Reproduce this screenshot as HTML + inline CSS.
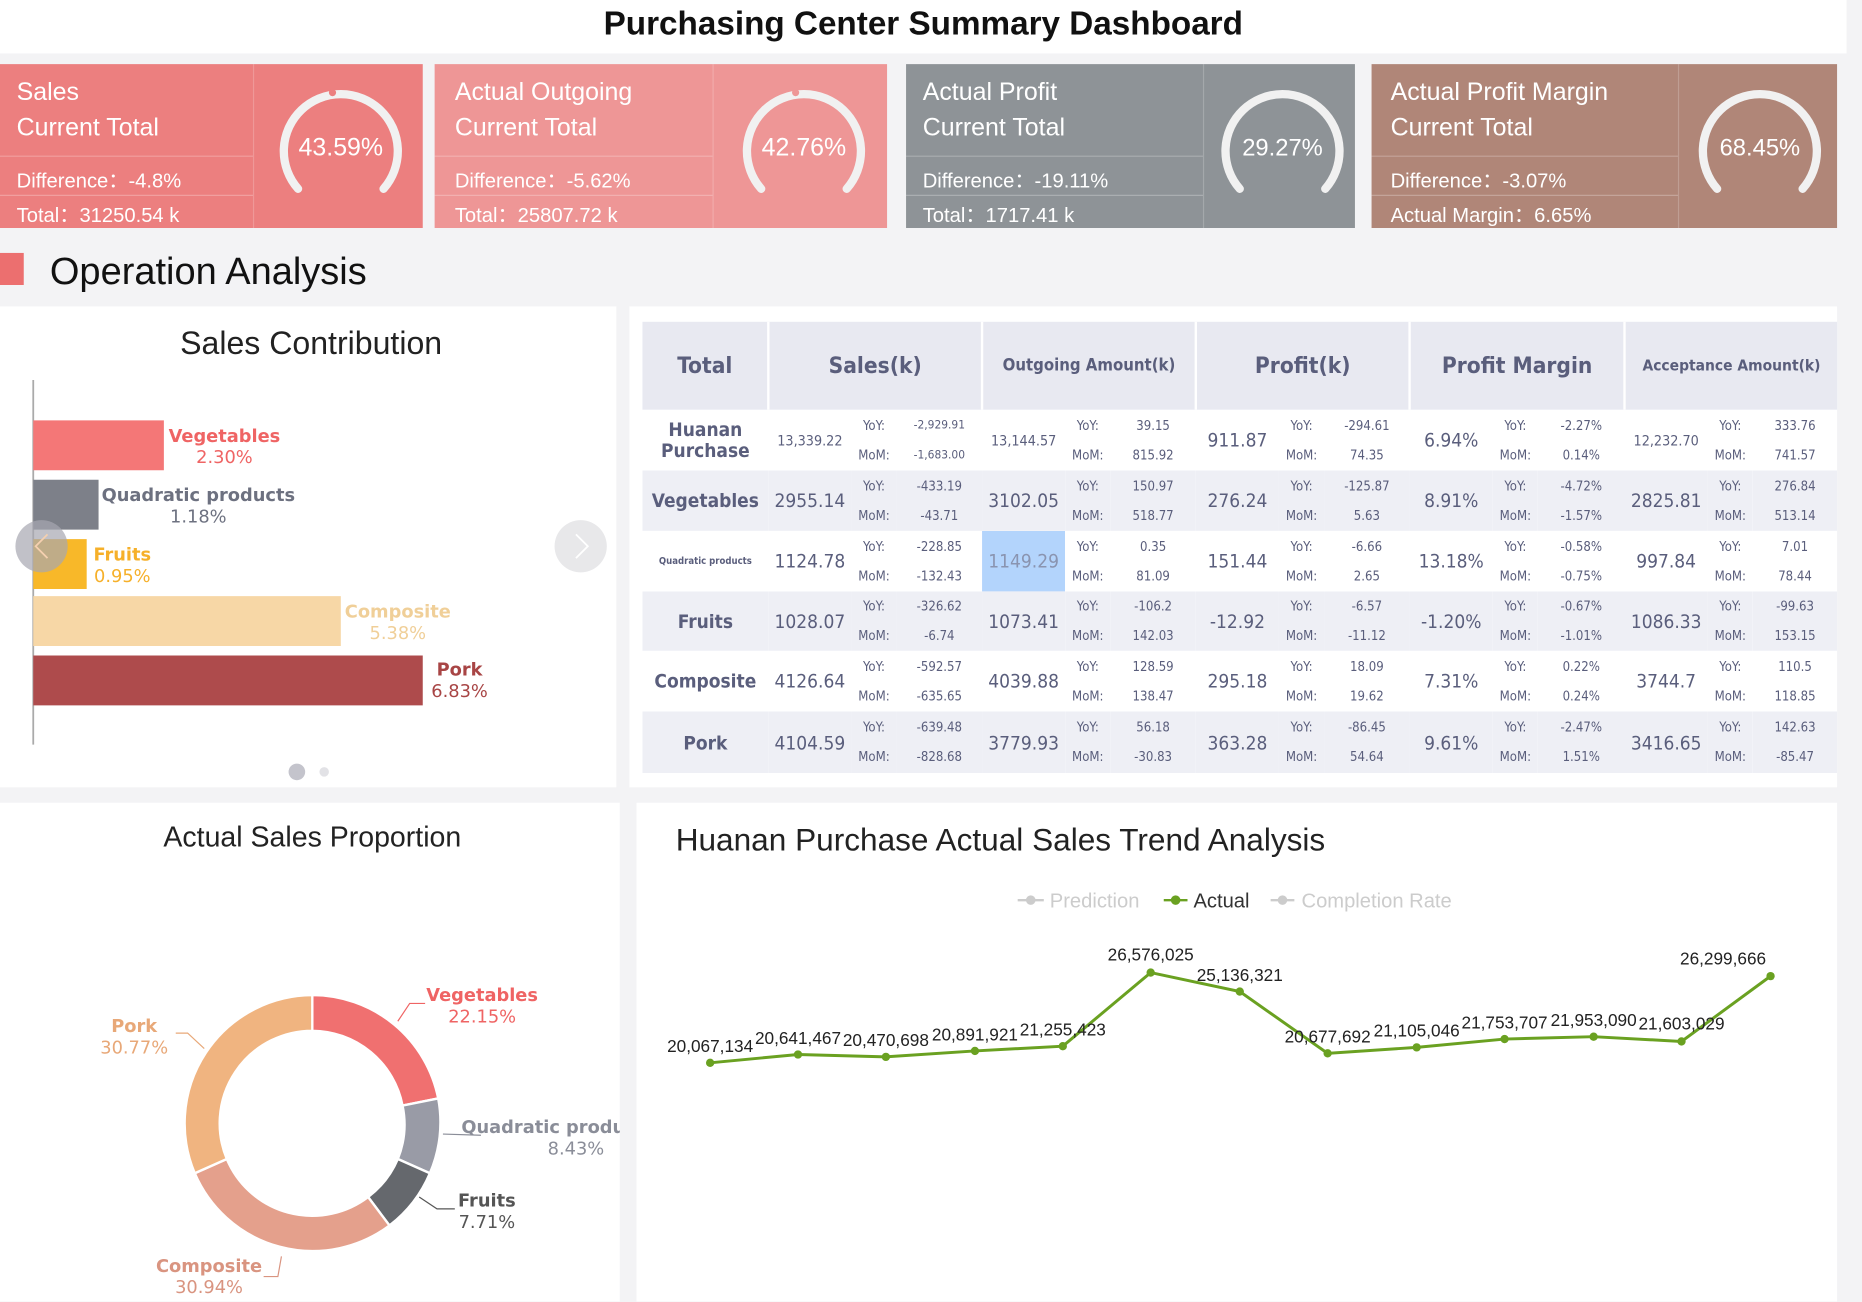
<!DOCTYPE html>
<html><head><meta charset="utf-8"><style>
html,body{margin:0;padding:0;width:1862px;height:1302px;overflow:hidden;background:#f3f3f5;font-family:"Liberation Sans","DejaVu Sans",sans-serif}
#w{position:absolute;left:0;top:0;width:1568px;height:1096px;transform:scale(1.1875);transform-origin:0 0;background:#f3f3f5}
.a{position:absolute}
.card{position:absolute;top:54px;height:138px;color:#fff}
.card .t{position:absolute;left:14px;font-size:21px;line-height:30px;top:9px}
.card .l1{position:absolute;left:0;width:213px;top:77px;border-top:1px solid rgba(255,255,255,.25)}
.card .l2{position:absolute;left:0;width:213px;top:110px;border-top:1px solid rgba(255,255,255,.25)}
.card .vd{position:absolute;left:213px;top:0;height:138px;border-left:1px solid rgba(255,255,255,.2)}
.card .d{position:absolute;left:14px;top:84px;font-size:17px}
.card .s{position:absolute;left:14px;top:113px;font-size:17px}
.card svg{position:absolute;top:14px}
table{border-collapse:collapse;table-layout:fixed;font-family:"DejaVu Sans Condensed","DejaVu Sans",sans-serif;color:#5a5e7c}
td{padding:0;text-align:center;vertical-align:middle;overflow:hidden;white-space:nowrap}
th{font-weight:bold;color:#5a5e7c;font-size:19px;border-left:2px solid #fff}
tr.h{height:74px;background:#e8e9f1}
tr.r{height:51px}
tr.alt{background:#eeeff5}
td.v{font-size:16px}
td.n{font-size:11px;line-height:25px}
td.lb{font-size:11px;line-height:25px}
td.c0{font-weight:bold;font-size:16px}
</style></head><body><div id="w">
<div class="a" style="left:0;top:0;width:1555px;height:45px;background:#fff"></div>
<div class="a" style="left:0;top:2px;width:1555px;text-align:center;font-size:28px;font-weight:bold;color:#111;line-height:36px">Purchasing Center Summary Dashboard</div>

<div class="card" style="left:0;width:356px;background:#ec7f7f"><div class="vd"></div><div class="l1"></div><div class="l2"></div>
<div class="t">Sales<br>Current Total</div><div class="d">Difference：-4.8%</div><div class="s">Total：31250.54 k</div>
<svg style="left:230px" width="114" height="114" viewBox="0 0 114 114"><path d="M21 91 A48 48 0 1 1 93 91" fill="none" stroke="#f1f1f1" stroke-width="7" stroke-linecap="round"/><circle cx="50" cy="10" r="3" fill="#ec7f7f"/><text x="57" y="63" text-anchor="middle" fill="#fff" font-size="21">43.59%</text></svg></div>

<div class="card" style="left:366px;width:381px;background:#ee9696"><div class="vd" style="left:234px"></div><div class="l1" style="width:234px"></div><div class="l2" style="width:234px"></div>
<div class="t" style="left:17px">Actual Outgoing<br>Current Total</div><div class="d" style="left:17px">Difference：-5.62%</div><div class="s" style="left:17px">Total：25807.72 k</div>
<svg style="left:254px" width="114" height="114" viewBox="0 0 114 114"><path d="M21 91 A48 48 0 1 1 93 91" fill="none" stroke="#f1f1f1" stroke-width="7" stroke-linecap="round"/><circle cx="50" cy="10" r="3" fill="#ee9696"/><text x="57" y="63" text-anchor="middle" fill="#fff" font-size="21">42.76%</text></svg></div>

<div class="card" style="left:763px;width:378px;background:#8e9397"><div class="vd" style="left:250px"></div><div class="l1" style="width:250px"></div><div class="l2" style="width:250px"></div>
<div class="t">Actual Profit<br>Current Total</div><div class="d">Difference：-19.11%</div><div class="s">Total：1717.41 k</div>
<svg style="left:260px" width="114" height="114" viewBox="0 0 114 114"><path d="M21 91 A48 48 0 1 1 93 91" fill="none" stroke="#f1f1f1" stroke-width="7" stroke-linecap="round"/><text x="57" y="63" text-anchor="middle" fill="#fff" font-size="20">29.27%</text></svg></div>

<div class="card" style="left:1155px;width:392px;background:#b08678"><div class="vd" style="left:258px"></div><div class="l1" style="width:258px"></div><div class="l2" style="width:258px"></div>
<div class="t" style="left:16px">Actual Profit Margin<br>Current Total</div><div class="d" style="left:16px">Difference：-3.07%</div><div class="s" style="left:16px">Actual Margin：6.65%</div>
<svg style="left:270px" width="114" height="114" viewBox="0 0 114 114"><path d="M21 91 A48 48 0 1 1 93 91" fill="none" stroke="#f1f1f1" stroke-width="7" stroke-linecap="round"/><text x="57" y="63" text-anchor="middle" fill="#fff" font-size="20">68.45%</text></svg></div>

<div class="a" style="left:0;top:213px;width:20px;height:27px;background:#ec6f6f"></div>
<div class="a" style="left:42px;top:209px;font-size:32px;color:#111;line-height:38px">Operation Analysis</div>

<!-- Sales contribution -->
<div class="a" style="left:0;top:258px;width:519px;height:405px;background:#fff"></div>
<div class="a" style="left:0;top:274px;width:524px;text-align:center;font-size:27px;color:#222">Sales Contribution</div>
<svg class="a" style="left:0;top:258px" width="519" height="405" viewBox="0 258 519 405" font-family="DejaVu Sans, sans-serif">
<line x1="28" y1="320" x2="28" y2="627" stroke="#aaa" stroke-width="1.5"/>
<rect x="28" y="354" width="110" height="42" fill="#f47777"/>
<rect x="28" y="404" width="55" height="42" fill="#7d8089"/>
<rect x="28" y="454" width="45" height="42" fill="#f8b829"/>
<rect x="28" y="502" width="259" height="42" fill="#f7d7a6"/>
<rect x="28" y="552" width="328" height="42" fill="#ae4b4c"/>
<g font-size="15" text-anchor="middle">
<text x="189" y="372" fill="#ef6464" font-weight="bold">Vegetables</text><text x="189" y="390" fill="#ef6464">2.30%</text>
<text x="167" y="422" fill="#6d7180" font-weight="bold">Quadratic products</text><text x="167" y="440" fill="#6d7180">1.18%</text>
<text x="103" y="472" fill="#f6b02a" font-weight="bold">Fruits</text><text x="103" y="490" fill="#f6b02a">0.95%</text>
<text x="335" y="520" fill="#f0cf98" font-weight="bold">Composite</text><text x="335" y="538" fill="#f0cf98">5.38%</text>
<text x="387" y="569" fill="#a84545" font-weight="bold">Pork</text><text x="387" y="587" fill="#a84545">6.83%</text>
</g>
<circle cx="35" cy="460" r="22" fill="#a6a6b0" opacity=".7"/><path d="M40 450 L30 460 L40 470" stroke="#f5d0b0" stroke-width="1.5" fill="none"/>
<circle cx="489" cy="460" r="22" fill="#e8e8ea"/><path d="M485 450 L495 460 L485 470" stroke="#fff" stroke-width="1.5" fill="none"/>
<circle cx="250" cy="650" r="7" fill="#c4c4cc"/><circle cx="273" cy="650" r="4" fill="#e2e2e6"/>
</svg>

<!-- table panel -->
<div class="a" style="left:530px;top:258px;width:1017px;height:405px;background:#fff"></div>
<table class="a" style="left:541px;top:271px;width:1006px">
<colgroup><col style="width:106px">
<col style="width:70px"><col style="width:38px"><col style="width:72px">
<col style="width:70px"><col style="width:38px"><col style="width:72px">
<col style="width:70px"><col style="width:38px"><col style="width:72px">
<col style="width:70px"><col style="width:38px"><col style="width:73px">
<col style="width:70px"><col style="width:38px"><col style="width:71px"></colgroup>
<tr class="h"><th style="border-left:none">Total</th><th colspan="3">Sales(k)</th><th colspan="3" style="font-size:14px">Outgoing Amount(k)</th><th colspan="3">Profit(k)</th><th colspan="3">Profit Margin</th><th colspan="3" style="font-size:13px">Acceptance Amount(k)</th></tr>
<tr class="r"><td class="c0" style="line-height:18px">Huanan<br>Purchase</td><td class="v" style="font-size:12px">13,339.22</td><td class="lb">YoY:<br>MoM:</td><td class="n" style="font-size:10px">-2,929.91<br>-1,683.00</td><td class="v" style="font-size:12px">13,144.57</td><td class="lb">YoY:<br>MoM:</td><td class="n">39.15<br>815.92</td><td class="v">911.87</td><td class="lb">YoY:<br>MoM:</td><td class="n">-294.61<br>74.35</td><td class="v">6.94%</td><td class="lb">YoY:<br>MoM:</td><td class="n">-2.27%<br>0.14%</td><td class="v" style="font-size:12px">12,232.70</td><td class="lb">YoY:<br>MoM:</td><td class="n">333.76<br>741.57</td></tr>
<tr class="r alt"><td class="c0">Vegetables</td><td class="v">2955.14</td><td class="lb">YoY:<br>MoM:</td><td class="n">-433.19<br>-43.71</td><td class="v">3102.05</td><td class="lb">YoY:<br>MoM:</td><td class="n">150.97<br>518.77</td><td class="v">276.24</td><td class="lb">YoY:<br>MoM:</td><td class="n">-125.87<br>5.63</td><td class="v">8.91%</td><td class="lb">YoY:<br>MoM:</td><td class="n">-4.72%<br>-1.57%</td><td class="v">2825.81</td><td class="lb">YoY:<br>MoM:</td><td class="n">276.84<br>513.14</td></tr>
<tr class="r"><td class="c0" style="font-size:8px">Quadratic products</td><td class="v">1124.78</td><td class="lb">YoY:<br>MoM:</td><td class="n">-228.85<br>-132.43</td><td class="v" style="background:#b3d4fc;color:#8a94b0">1149.29</td><td class="lb">YoY:<br>MoM:</td><td class="n">0.35<br>81.09</td><td class="v">151.44</td><td class="lb">YoY:<br>MoM:</td><td class="n">-6.66<br>2.65</td><td class="v">13.18%</td><td class="lb">YoY:<br>MoM:</td><td class="n">-0.58%<br>-0.75%</td><td class="v">997.84</td><td class="lb">YoY:<br>MoM:</td><td class="n">7.01<br>78.44</td></tr>
<tr class="r alt" style="height:50px"><td class="c0">Fruits</td><td class="v">1028.07</td><td class="lb">YoY:<br>MoM:</td><td class="n">-326.62<br>-6.74</td><td class="v">1073.41</td><td class="lb">YoY:<br>MoM:</td><td class="n">-106.2<br>142.03</td><td class="v">-12.92</td><td class="lb">YoY:<br>MoM:</td><td class="n">-6.57<br>-11.12</td><td class="v">-1.20%</td><td class="lb">YoY:<br>MoM:</td><td class="n">-0.67%<br>-1.01%</td><td class="v">1086.33</td><td class="lb">YoY:<br>MoM:</td><td class="n">-99.63<br>153.15</td></tr>
<tr class="r"><td class="c0">Composite</td><td class="v">4126.64</td><td class="lb">YoY:<br>MoM:</td><td class="n">-592.57<br>-635.65</td><td class="v">4039.88</td><td class="lb">YoY:<br>MoM:</td><td class="n">128.59<br>138.47</td><td class="v">295.18</td><td class="lb">YoY:<br>MoM:</td><td class="n">18.09<br>19.62</td><td class="v">7.31%</td><td class="lb">YoY:<br>MoM:</td><td class="n">0.22%<br>0.24%</td><td class="v">3744.7</td><td class="lb">YoY:<br>MoM:</td><td class="n">110.5<br>118.85</td></tr>
<tr class="r alt" style="height:52px"><td class="c0">Pork</td><td class="v">4104.59</td><td class="lb">YoY:<br>MoM:</td><td class="n">-639.48<br>-828.68</td><td class="v">3779.93</td><td class="lb">YoY:<br>MoM:</td><td class="n">56.18<br>-30.83</td><td class="v">363.28</td><td class="lb">YoY:<br>MoM:</td><td class="n">-86.45<br>54.64</td><td class="v">9.61%</td><td class="lb">YoY:<br>MoM:</td><td class="n">-2.47%<br>1.51%</td><td class="v">3416.65</td><td class="lb">YoY:<br>MoM:</td><td class="n">142.63<br>-85.47</td></tr>
</table>

<!-- donut -->
<div class="a" style="left:0;top:676px;width:522px;height:420px;background:#fff"></div>
<div class="a" style="left:0;top:692px;width:526px;text-align:center;font-size:24px;color:#222">Actual Sales Proportion</div>
<svg class="a" style="left:0;top:676px" width="526" height="420" viewBox="0 676 526 420" font-family="DejaVu Sans, sans-serif">
<g stroke="#fff" stroke-width="2">
<path d="M263 838 A108 108 0 0 1 369 925 L339 931 A78 78 0 0 0 263 868 Z" fill="#f07070"/>
<path d="M369 925 A108 108 0 0 1 362 988 L335 976 A78 78 0 0 0 339 931 Z" fill="#999ba6"/>
<path d="M362 988 A108 108 0 0 1 328 1032 L310 1008 A78 78 0 0 0 335 976 Z" fill="#65686d"/>
<path d="M328 1032 A108 108 0 0 1 164 988 L191 976 A78 78 0 0 0 310 1008 Z" fill="#e4a08c"/>
<path d="M164 988 A108 108 0 0 1 263 838 L263 868 A78 78 0 0 0 191 976 Z" fill="#f0b480"/>
</g>
<g fill="none" stroke-width="1">
<path d="M335 860 L345 845 L358 845" stroke="#ef6464"/>
<path d="M373 955 L405 956" stroke="#8a8d98"/>
<path d="M353 1008 L368 1018 L383 1018" stroke="#555"/>
<path d="M237 1058 L234 1075 L222 1075" stroke="#d99480"/>
<path d="M172 883 L158 870 L148 870" stroke="#e8a878"/>
</g>
<g font-size="15" text-anchor="middle">
<text x="406" y="843" fill="#ef6464" font-weight="bold">Vegetables</text><text x="406" y="861" fill="#ef6464">22.15%</text>
<text x="470" y="954" fill="#8a8d98" font-weight="bold">Quadratic products</text><text x="485" y="972" fill="#8a8d98">8.43%</text>
<text x="410" y="1016" fill="#555" font-weight="bold">Fruits</text><text x="410" y="1034" fill="#555">7.71%</text>
<text x="176" y="1071" fill="#d99480" font-weight="bold">Composite</text><text x="176" y="1089" fill="#d99480">30.94%</text>
<text x="113" y="869" fill="#e8a878" font-weight="bold">Pork</text><text x="113" y="887" fill="#e8a878">30.77%</text>
</g></svg>
<div class="a" style="left:522px;top:676px;width:14px;height:420px;background:#f3f3f5"></div>

<!-- trend -->
<div class="a" style="left:536px;top:676px;width:1011px;height:420px;background:#fff"></div>
<div class="a" style="left:569px;top:692px;font-size:26.6px;color:#222">Huanan Purchase Actual Sales Trend Analysis</div>
<svg class="a" style="left:536px;top:676px" width="1011" height="420" viewBox="536 676 1011 420" font-family="Liberation Sans, sans-serif">
<g font-size="17">
<line x1="857" y1="758" x2="879" y2="758" stroke="#ccc" stroke-width="2"/><circle cx="868" cy="758" r="4" fill="#ccc"/><text x="884" y="764" fill="#ccc">Prediction</text>
<line x1="980" y1="758" x2="1000" y2="758" stroke="#6aa121" stroke-width="2"/><circle cx="990" cy="758" r="4" fill="#6aa121"/><text x="1005" y="764" fill="#333">Actual</text>
<line x1="1070" y1="758" x2="1090" y2="758" stroke="#ccc" stroke-width="2"/><circle cx="1080" cy="758" r="4" fill="#ccc"/><text x="1096" y="764" fill="#ccc">Completion Rate</text>
</g>
<polyline fill="none" stroke="#6aa121" stroke-width="2.5" points="598,895 672,888 746,890 821,885 895,881 969,819 1044,835 1118,887 1193,882 1267,875 1342,873 1416,877 1491,822"/>
<g fill="#6aa121"><circle cx="598" cy="895" r="3.5"/><circle cx="672" cy="888" r="3.5"/><circle cx="746" cy="890" r="3.5"/><circle cx="821" cy="885" r="3.5"/><circle cx="895" cy="881" r="3.5"/><circle cx="969" cy="819" r="3.5"/><circle cx="1044" cy="835" r="3.5"/><circle cx="1118" cy="887" r="3.5"/><circle cx="1193" cy="882" r="3.5"/><circle cx="1267" cy="875" r="3.5"/><circle cx="1342" cy="873" r="3.5"/><circle cx="1416" cy="877" r="3.5"/><circle cx="1491" cy="822" r="3.5"/></g>
<g font-size="14.5" fill="#222" text-anchor="middle">
<text x="598" y="886">20,067,134</text><text x="672" y="879">20,641,467</text><text x="746" y="881">20,470,698</text><text x="821" y="876">20,891,921</text><text x="895" y="872">21,255,423</text><text x="969" y="809">26,576,025</text><text x="1044" y="826">25,136,321</text><text x="1118" y="878">20,677,692</text><text x="1193" y="873">21,105,046</text><text x="1267" y="866">21,753,707</text><text x="1342" y="864">21,953,090</text><text x="1416" y="867">21,603,029</text><text x="1451" y="812">26,299,666</text>
</g></svg>
</div></body></html>
